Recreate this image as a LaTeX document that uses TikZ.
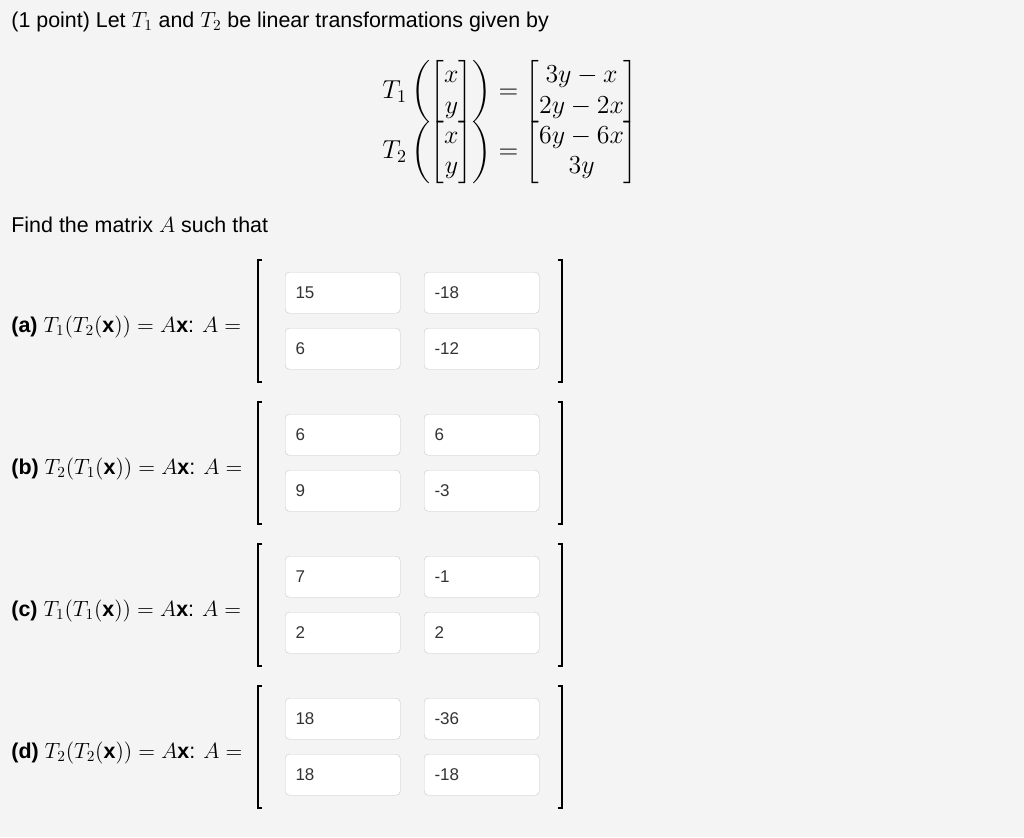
\documentclass[tikz,border=0pt]{standalone}
\usepackage{amsmath}
\usepackage{fontspec}
\setmainfont{Liberation Sans}
\definecolor{bg}{HTML}{F4F4F4}
\definecolor{boxline}{HTML}{C8C8C8}
\definecolor{txt}{HTML}{333333}
\tikzset{
  ansbox/.style={draw=boxline, fill=white, rounded corners=4pt, minimum width=115pt, minimum height=41pt, anchor=north west, inner sep=0pt},
  anstext/.style={anchor=west, text=txt, font=\fontsize{17}{20}\selectfont},
  lbl/.style={anchor=west, font=\fontsize{14}{17}\selectfont, scale=1.53, transform shape},
}
\newcommand{\partblock}[6]{%
  \draw[line width=2pt] (262,#1) -- (258,#1) -- (258,#1+122) -- (262,#1+122);
  \draw[line width=2pt] (558,#1) -- (562,#1) -- (562,#1+122) -- (558,#1+122);
  \node[ansbox] (a#1) at (285,#1+12) {};
  \node[ansbox] (b#1) at (424,#1+12) {};
  \node[ansbox] (c#1) at (285,#1+68) {};
  \node[ansbox] (d#1) at (424,#1+68) {};
  \node[anstext] at ([xshift=7pt]a#1.west) {#3};
  \node[anstext] at ([xshift=7pt]b#1.west) {#4};
  \node[anstext] at ([xshift=7pt]c#1.west) {#5};
  \node[anstext] at ([xshift=7pt]d#1.west) {#6};
  \node[lbl] (l#1) at (6,#1+67) {#2};
}
\begin{document}
\begin{tikzpicture}[x=1pt,y=-1pt]
\fill[bg] (0,0) rectangle (1024,837);
\useasboundingbox (0,0) rectangle (1024,837);
\node[lbl] (title) at (6,22) {(1 point) Let $T_1$ and $T_2$ be linear transformations given by};
\node[font=\fontsize{14}{17}\selectfont, scale=1.8, transform shape] (eqs) at (510,122) {$\begin{aligned}
T_1\left(\begin{bmatrix}x\\y\end{bmatrix}\right) &= \begin{bmatrix}3y-x\\2y-2x\end{bmatrix}\\[-5pt]
T_2\left(\begin{bmatrix}x\\y\end{bmatrix}\right) &= \begin{bmatrix}6y-6x\\3y\end{bmatrix}
\end{aligned}$};
\node[lbl] (find) at (6,225) {Find the matrix $A$ such that};
\partblock{260}{\textbf{(a)} $T_1(T_2(\mathbf{x}))=A\mathbf{x}$: $A=$}{15}{-18}{6}{-12}
\partblock{402}{\textbf{(b)} $T_2(T_1(\mathbf{x}))=A\mathbf{x}$: $A=$}{6}{6}{9}{-3}
\partblock{544}{\textbf{(c)} $T_1(T_1(\mathbf{x}))=A\mathbf{x}$: $A=$}{7}{-1}{2}{2}
\partblock{686}{\textbf{(d)} $T_2(T_2(\mathbf{x}))=A\mathbf{x}$: $A=$}{18}{-36}{18}{-18}
\end{tikzpicture}
\end{document}
